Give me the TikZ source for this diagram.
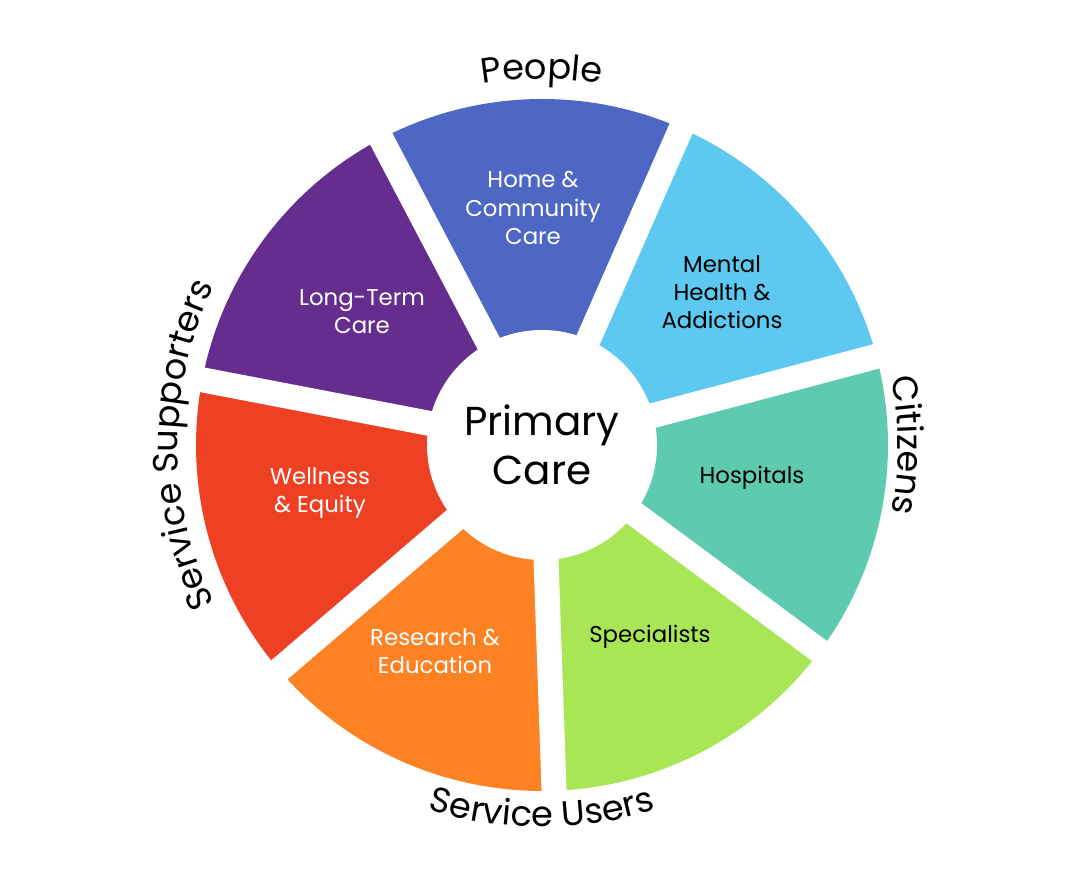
\documentclass[tikz,border=0pt]{standalone}
\usepackage{fontspec}
\setmainfont{Poppins}
\usetikzlibrary{decorations.text}
\definecolor{homecol}{HTML}{4F67C4}
\definecolor{mentalcol}{HTML}{5DC9F0}
\definecolor{hospcol}{HTML}{5ECBAE}
\definecolor{speccol}{HTML}{A8E655}
\definecolor{rescol}{HTML}{FD8224}
\definecolor{wellcol}{HTML}{EE4124}
\definecolor{longcol}{HTML}{652D8E}
\def\Rout{346}
\def\Rin{115}
\tikzset{
  seglabel/.style={align=center,font=\fontsize{13}{16}\selectfont},
  outerlabel/.style={decoration={text along path,text align=center,text={#1}},decorate},
}
\begin{document}
\begin{tikzpicture}[x=0.02cm,y=0.02cm]
        \useasboundingbox (0,0) rectangle (1080,878);
        \coordinate (c) at (542,433);
        %
        % segments
        \foreach \mid/\col in {92/homecol,40.57/mentalcol,-10.86/hospcol,-62.29/speccol,-113.71/rescol,-165.14/wellcol,-216.57/longcol}{
          \fill[\col] (c) -- ++(\mid+25.71:\Rout) arc[start angle=\mid+25.71,end angle=\mid-25.71,radius=\Rout] -- cycle;
        }
        \foreach \mid in {92,40.57,-10.86,-62.29,-113.71,-165.14,-216.57}{
          \draw[white,line width=0.5cm] (c) -- ++(\mid+25.71:\Rout+20);
        }
        \fill[white] (c) circle (\Rin);
        %
        \node[align=center,font=\fontsize{23}{28}\selectfont] (primary) at (c) {Primary\\Care};
        \node[seglabel,white] (home) at (533,670) {Home \&\\Community\\Care};
        \node[seglabel] (mental) at (722,586) {Mental\\Health \&\\Addictions};
        \node[seglabel] (hosp) at (752,400) {Hospitals};
        \node[seglabel] (spec) at (650,241) {Specialists};
        \node[seglabel,white] (research) at (435,227) {Research \&\\Education};
        \node[seglabel,white] (wellness) at (320,385) {Wellness\\\& Equity};
        \node[seglabel,white] (longterm) at (362,566) {Long-Term\\Care};
        %
        % curved outer labels
        \path[outerlabel={|\fontsize{20}{24}\selectfont|People}] (c) ++(110:366) arc[start angle=110,end angle=70,radius=366];
        \path[outerlabel={|\fontsize{20}{24}\selectfont|Citizens}] (c) ++(25:356) arc[start angle=25,end angle=-25,radius=356];
        \path[outerlabel={|\fontsize{20}{24}\selectfont|Service Users}] (c) ++(-125:382) arc[start angle=-125,end angle=-55,radius=382];
        \path[outerlabel={|\fontsize{20}{24}\selectfont|Service Supporters}] (c) ++(-145:364) arc[start angle=-145,end angle=-215,radius=364];
\end{tikzpicture}
\end{document}
